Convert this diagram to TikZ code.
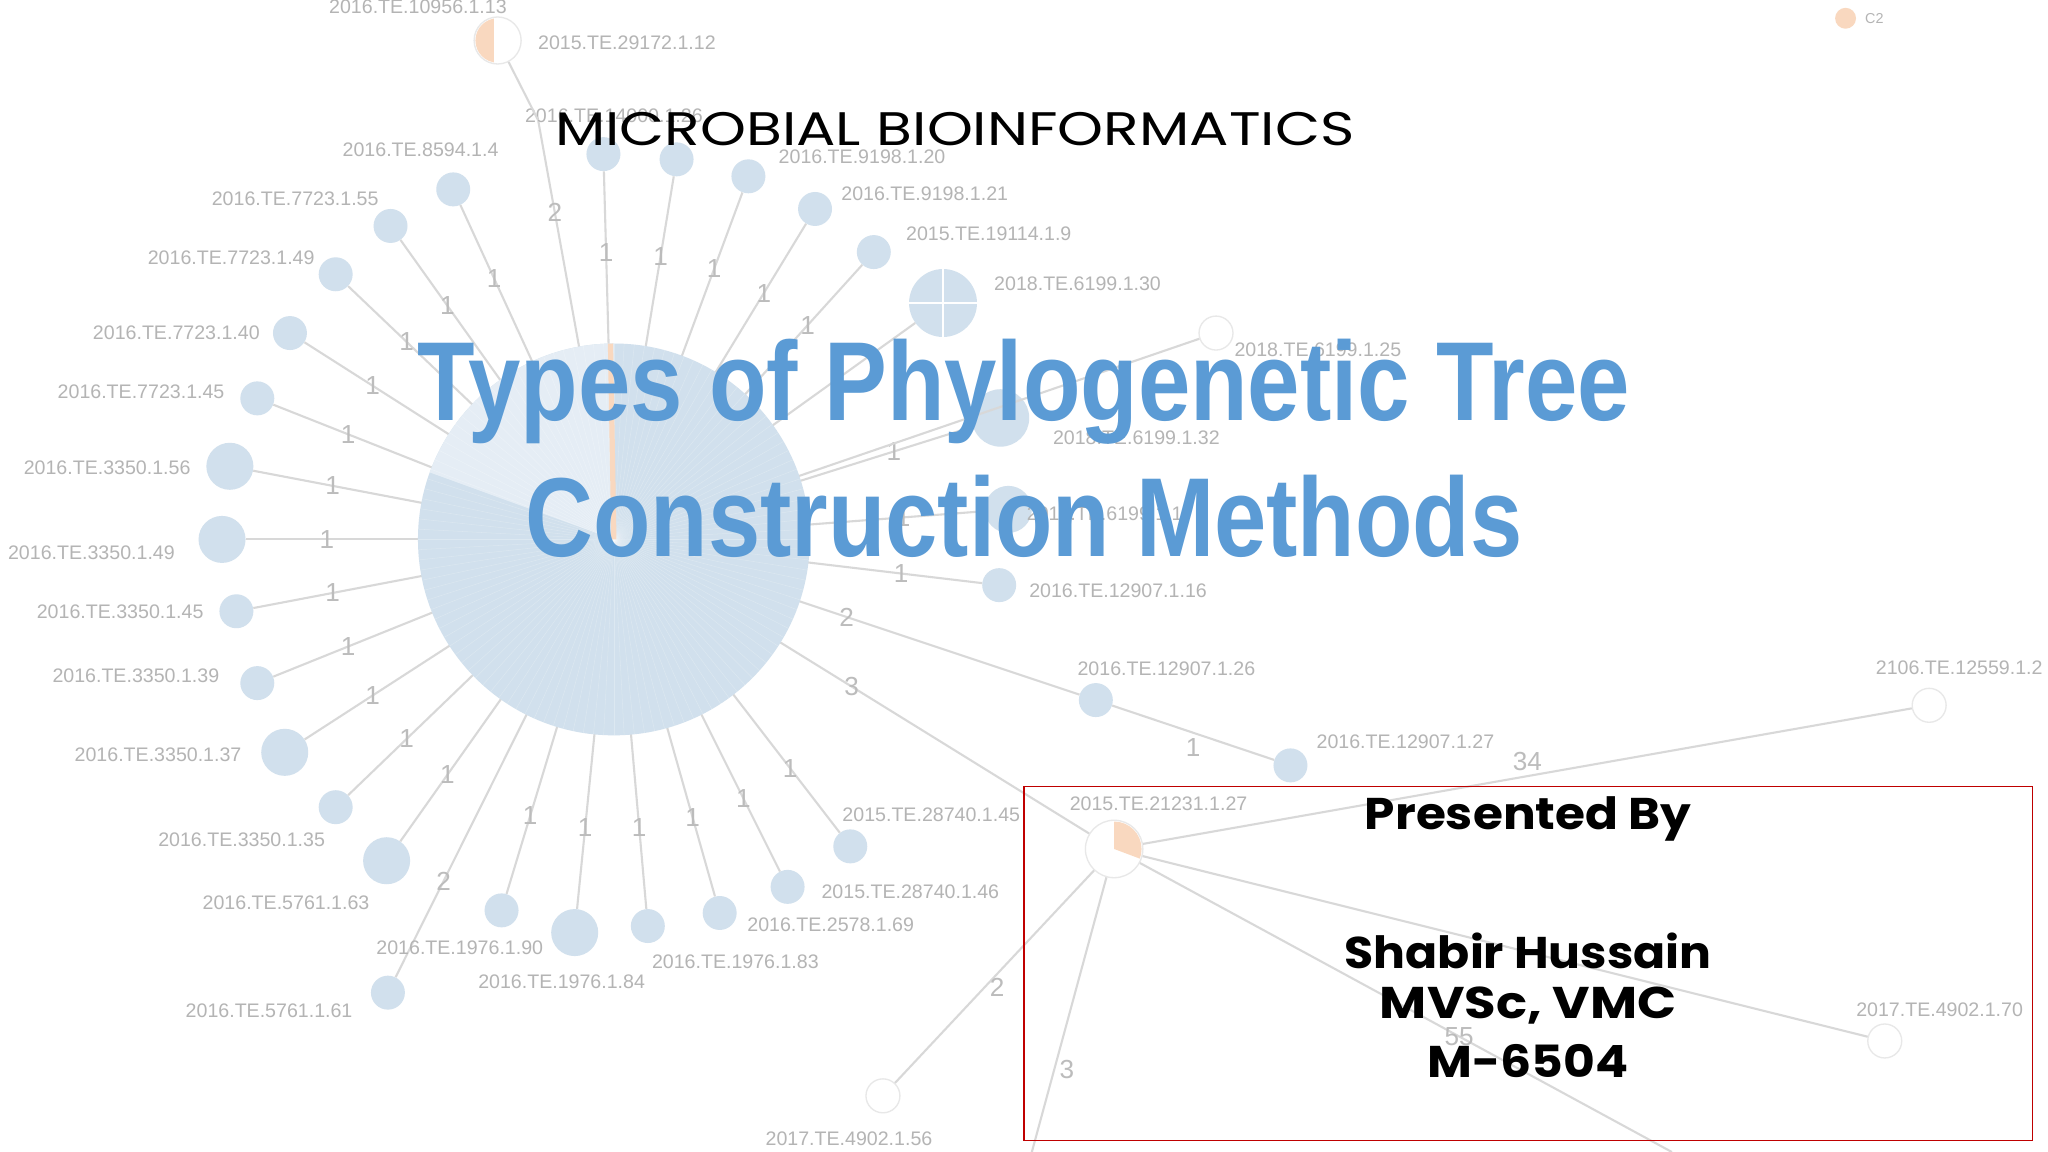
\documentclass[tikz,border=0pt]{standalone}
\usepackage{fontspec}
\usepackage{graphicx}
\setmainfont{Liberation Sans}
\newfontfamily\comic{Poppins}
\definecolor{edgec}{HTML}{D2D2D2}
\definecolor{nodec}{HTML}{C9DBEA}
\definecolor{labc}{HTML}{A8A8A8}
\definecolor{titc}{HTML}{5B9BD5}
\definecolor{orc}{HTML}{F9D2B4}
\begin{document}
\begin{tikzpicture}[x=1pt,y=-1pt,
  edge/.style={draw=edgec,line width=1.6pt},
  leaf/.style={circle,fill=nodec,inner sep=0pt},
  wleaf/.style={circle,fill=white,draw=edgec!60,line width=1pt,inner sep=0pt},
  lab/.style={text=labc,font=\fontsize{15}{15}\selectfont},
  elab/.style={text=labc!90,font=\fontsize{20}{20}\selectfont}]
\useasboundingbox (0,0) rectangle (1568,882);
\fill[white] (0,0) rectangle (1568,882);
\coordinate (hub) at (470,413);
\foreach \x/\y/\r/\lab/\lx/\ly/\el [count=\i] in {
 347/145/13/2016.TE.8594.1.4/322/115/1,
 299/173/13/2016.TE.7723.1.55/226/152/1,
 257/210/13/2016.TE.7723.1.49/177/197/1,
 222/255/13/2016.TE.7723.1.40/135/255/1,
 197/305/13/2016.TE.7723.1.45/108/300/1,
 176/357/18/2016.TE.3350.1.56/82/358/1,
 170/413/18/2016.TE.3350.1.49/70/423/1,
 181/468/13/2016.TE.3350.1.45/92/468/1,
 197/523/13/2016.TE.3350.1.39/104/517/1,
 218/576/18/2016.TE.3350.1.37/121/578/1,
 257/618/13/2016.TE.3350.1.35/185/643/1,
 296/659/18/2016.TE.5761.1.63/219/691/1,
 297/760/13/2016.TE.5761.1.61/206/774/2,
 384/697/13/2016.TE.1976.1.90/352/726/1,
 440/714/18/2016.TE.1976.1.84/430/752/1,
 496/709/13/2016.TE.1976.1.83/563/736/1,
 551/699/13/2016.TE.2578.1.69/636/708/1,
 603/679/13/2015.TE.28740.1.46/697/683/1,
 651/648/13/2015.TE.28740.1.45/713/624/1,
 412/92/0/2016.TE.14000.1.26/470/89/2,
 462/118/13/{}/0/0/1,
 518/122/13/{}/0/0/1,
 573/135/13/2016.TE.9198.1.20/660/120/1,
 624/160/13/2016.TE.9198.1.21/708/148/1,
 669/193/13/2015.TE.19114.1.9/757/179/1,
 766/320/22/2018.TE.6199.1.32/870/335/1,
 772/390/18/2016.TE.6199.1.17/850/393/1,
 765/448/13/2016.TE.12907.1.16/856/452/1}
{
  \node[leaf,minimum size=2*\r] (n\i) at (\x,\y) {};
  \draw[edge] (hub) -- (n\i) node[elab,pos=0.78]{\el};
  \node[lab] at (\lx,\ly) {\lab};
}
\node[leaf,minimum size=52] (big) at (722,232) {};
\draw[white,line width=1pt] (696,232) -- (748,232) (722,206) -- (722,258);
\node[lab] at (825,217) {2018.TE.6199.1.30};
\draw[edge] (hub) -- (big);
\node[wleaf,minimum size=26] (w25) at (931,255) {};
\node[lab] at (1009,268) {2018.TE.6199.1.25};
\draw[edge] (hub) -- (w25);
\node[leaf,minimum size=26] (a26) at (839,536) {};
\node[lab] at (893,512) {2016.TE.12907.1.26};
\draw[edge] (hub) -- (a26) node[elab,pos=0.5]{2};
\node[leaf,minimum size=26] (a27) at (988,586) {};
\node[lab] at (1076,568) {2016.TE.12907.1.27};
\draw[edge] (a26) -- (a27) node[elab,midway,below]{1};
\node[wleaf,minimum size=36] (t12) at (381,31) {};
\begin{scope}
\clip (381,31) circle[radius=17];
\fill[orc] (364,14) rectangle (378,48);
\end{scope}
\node[lab] at (480,33) {2015.TE.29172.1.12};
\node[lab] at (320,5) {2016.TE.10956.1.13};
\draw[edge] (t12) -- (n20);
\node[circle,fill=orc,minimum size=16,inner sep=0pt] (c2) at (1413,14) {};
\node[lab,font=\fontsize{11}{11}\selectfont] at (1435,14) {C2};
\node[wleaf,minimum size=44] (h2) at (853,650) {};
\begin{scope}
\clip (853,650) circle[radius=21];
\fill[orc] (853,650) -- (853,620) -- (885,620) -- (885,662) -- cycle;
\end{scope}
\node[lab] at (887,615) {2015.TE.21231.1.27};
\draw[edge] (hub) -- (h2) node[elab,pos=0.5]{3};
\node[wleaf,minimum size=26] (r1) at (1477,540) {};
\node[lab] at (1500,511) {2106.TE.12559.1.2};
\draw[edge] (h2) -- (r1) node[elab,pos=0.5,above]{34};
\node[wleaf,minimum size=26] (r2) at (1443,797) {};
\node[lab] at (1485,773) {2017.TE.4902.1.70};
\draw[edge] (h2) -- (r2);
\coordinate (b1) at (1280,882);
\draw[edge] (h2) -- (b1) node[elab,pos=0.6]{55};
\node[wleaf,minimum size=26] (r3) at (676,839) {};
\node[lab] at (650,872) {2017.TE.4902.1.56};
\draw[edge] (h2) -- (r3) node[elab,pos=0.55,right]{2};
\coordinate (b2) at (790,882);
\draw[edge] (h2) -- (b2) node[elab,pos=0.7,right]{3};
% main hub disc (y axis is flipped: angle a appears at -a)
\fill[nodec] (hub) circle[radius=150];
\fill[nodec!55] (hub) -- ++(-90:150) arc[start angle=-90,end angle=-160,radius=150] -- cycle;
\foreach \a in {0,3,...,357} \draw[white,opacity=0.25,line width=0.4pt] (hub) -- ++(\a:150);
\draw[orc,line width=4pt] (hub) -- ++(-91:150);
\fill[white,opacity=0.15] (0,0) rectangle (1568,882);
% titles
\node[font=\comic\fontsize{36}{36}\selectfont] (mb) at (731,99) {\resizebox{612pt}{\height}{MICROBIAL BIOINFORMATICS}};
\node[text=titc,font=\bfseries\fontsize{86}{86}\selectfont] (t1) at (784,300) {\resizebox{928pt}{\height}{Types of Phylogenetic Tree}};
\node[text=titc,font=\bfseries\fontsize{86}{86}\selectfont] (t2) at (784,395) {\resizebox{763pt}{\height}{Construction Methods}};
\draw[red!75!black,line width=1pt] (784,602) rectangle (1556,873);
\node[font=\comic\bfseries\fontsize{34}{34}\selectfont] (pb) at (1170,627) {\resizebox{250pt}{\height}{Presented By}};
\node[font=\comic\bfseries\fontsize{34}{34}\selectfont] (s1) at (1170,728) {\resizebox{281pt}{\height}{Shabir Hussain}};
\node[font=\comic\bfseries\fontsize{34}{34}\selectfont] (s2) at (1170,770) {\resizebox{227pt}{\height}{MVSc, VMC}};
\node[font=\comic\bfseries\fontsize{34}{34}\selectfont] (s3) at (1170,812) {\resizebox{154pt}{\height}{M-6504}};
\end{tikzpicture}
\end{document}
